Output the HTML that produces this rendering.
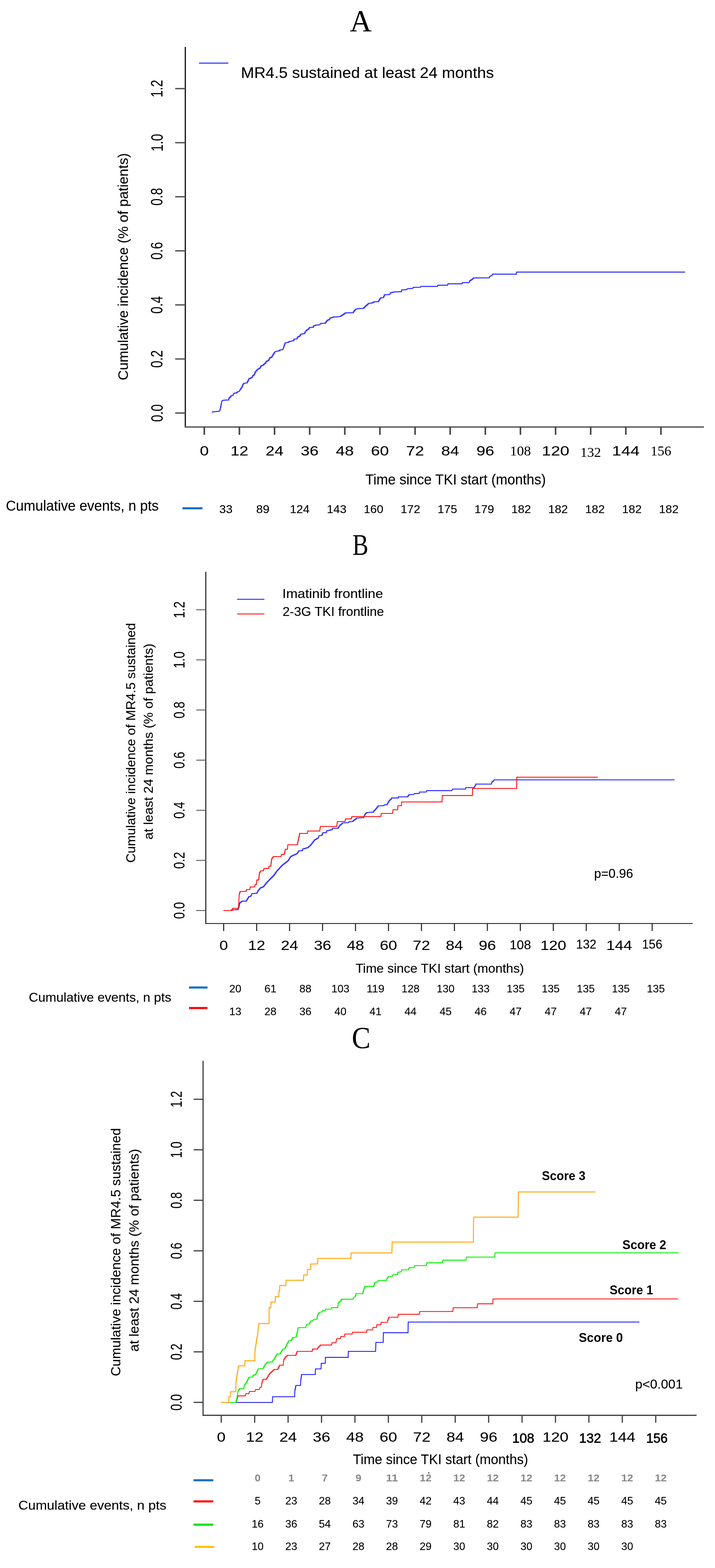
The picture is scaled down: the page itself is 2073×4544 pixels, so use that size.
<!DOCTYPE html>
<html><head><meta charset="utf-8"><title>Cumulative incidence of MR4.5</title>
<style>html,body{margin:0;padding:0;background:#fff;} svg{display:block;}</style></head>
<body><svg width="2073" height="4544" viewBox="0 0 2073 4544">
<rect width="2073" height="4544" fill="#fff"/>
<text x="1046.0" y="90.3" font-size="88" font-family="'Liberation Serif', 'Times New Roman', serif" fill="#000" text-anchor="middle">A</text>
<line x1="537.3" y1="136.0" x2="537.3" y2="1239.0" stroke="#161616" stroke-width="3.6"/>
<line x1="535.5" y1="1237.4" x2="2041.0" y2="1237.4" stroke="#666" stroke-width="4.5"/>
<line x1="508.0" y1="1197.0" x2="537.0" y2="1197.0" stroke="#555" stroke-width="4"/>
<text x="471.5" y="1197.0" font-size="48.5" font-family="'Liberation Sans', Arial, sans-serif" fill="#000" stroke="#000" stroke-width="0.15" text-anchor="middle" textLength="51.0" lengthAdjust="spacingAndGlyphs" transform="rotate(-90 471.5 1197.0)">0.0</text>
<line x1="508.0" y1="1040.3" x2="537.0" y2="1040.3" stroke="#555" stroke-width="4"/>
<text x="471.5" y="1040.3" font-size="48.5" font-family="'Liberation Sans', Arial, sans-serif" fill="#000" stroke="#000" stroke-width="0.15" text-anchor="middle" textLength="51.0" lengthAdjust="spacingAndGlyphs" transform="rotate(-90 471.5 1040.3)">0.2</text>
<line x1="508.0" y1="883.6" x2="537.0" y2="883.6" stroke="#555" stroke-width="4"/>
<text x="471.5" y="883.6" font-size="48.5" font-family="'Liberation Sans', Arial, sans-serif" fill="#000" stroke="#000" stroke-width="0.15" text-anchor="middle" textLength="51.0" lengthAdjust="spacingAndGlyphs" transform="rotate(-90 471.5 883.6)">0.4</text>
<line x1="508.0" y1="726.9" x2="537.0" y2="726.9" stroke="#555" stroke-width="4"/>
<text x="471.5" y="726.9" font-size="48.5" font-family="'Liberation Sans', Arial, sans-serif" fill="#000" stroke="#000" stroke-width="0.15" text-anchor="middle" textLength="51.0" lengthAdjust="spacingAndGlyphs" transform="rotate(-90 471.5 726.9)">0.6</text>
<line x1="508.0" y1="570.2" x2="537.0" y2="570.2" stroke="#555" stroke-width="4"/>
<text x="471.5" y="570.2" font-size="48.5" font-family="'Liberation Sans', Arial, sans-serif" fill="#000" stroke="#000" stroke-width="0.15" text-anchor="middle" textLength="51.0" lengthAdjust="spacingAndGlyphs" transform="rotate(-90 471.5 570.2)">0.8</text>
<line x1="508.0" y1="413.5" x2="537.0" y2="413.5" stroke="#555" stroke-width="4"/>
<text x="471.5" y="413.5" font-size="48.5" font-family="'Liberation Sans', Arial, sans-serif" fill="#000" stroke="#000" stroke-width="0.15" text-anchor="middle" textLength="51.0" lengthAdjust="spacingAndGlyphs" transform="rotate(-90 471.5 413.5)">1.0</text>
<line x1="508.0" y1="256.8" x2="537.0" y2="256.8" stroke="#555" stroke-width="4"/>
<text x="471.5" y="256.8" font-size="48.5" font-family="'Liberation Sans', Arial, sans-serif" fill="#000" stroke="#000" stroke-width="0.15" text-anchor="middle" textLength="51.0" lengthAdjust="spacingAndGlyphs" transform="rotate(-90 471.5 256.8)">1.2</text>
<line x1="592.3" y1="1237.0" x2="592.3" y2="1260.0" stroke="#444" stroke-width="4.5"/>
<text x="592.3" y="1320.2" font-size="38.8" font-family="'Liberation Sans', Arial, sans-serif" fill="#000" stroke="#000" stroke-width="0.15" text-anchor="middle" textLength="25.7" lengthAdjust="spacingAndGlyphs">0</text>
<line x1="694.1" y1="1237.0" x2="694.1" y2="1260.0" stroke="#444" stroke-width="4.5"/>
<text x="694.1" y="1320.2" font-size="38.8" font-family="'Liberation Sans', Arial, sans-serif" fill="#000" stroke="#000" stroke-width="0.15" text-anchor="middle" textLength="51.9" lengthAdjust="spacingAndGlyphs">12</text>
<line x1="796.0" y1="1237.0" x2="796.0" y2="1260.0" stroke="#444" stroke-width="4.5"/>
<text x="796.0" y="1320.2" font-size="38.8" font-family="'Liberation Sans', Arial, sans-serif" fill="#000" stroke="#000" stroke-width="0.15" text-anchor="middle" textLength="51.9" lengthAdjust="spacingAndGlyphs">24</text>
<line x1="897.8" y1="1237.0" x2="897.8" y2="1260.0" stroke="#444" stroke-width="4.5"/>
<text x="897.8" y="1320.2" font-size="38.8" font-family="'Liberation Sans', Arial, sans-serif" fill="#000" stroke="#000" stroke-width="0.15" text-anchor="middle" textLength="51.9" lengthAdjust="spacingAndGlyphs">36</text>
<line x1="999.7" y1="1237.0" x2="999.7" y2="1260.0" stroke="#444" stroke-width="4.5"/>
<text x="999.7" y="1320.2" font-size="38.8" font-family="'Liberation Sans', Arial, sans-serif" fill="#000" stroke="#000" stroke-width="0.15" text-anchor="middle" textLength="51.9" lengthAdjust="spacingAndGlyphs">48</text>
<line x1="1101.5" y1="1237.0" x2="1101.5" y2="1260.0" stroke="#444" stroke-width="4.5"/>
<text x="1101.5" y="1320.2" font-size="38.8" font-family="'Liberation Sans', Arial, sans-serif" fill="#000" stroke="#000" stroke-width="0.15" text-anchor="middle" textLength="51.9" lengthAdjust="spacingAndGlyphs">60</text>
<line x1="1203.4" y1="1237.0" x2="1203.4" y2="1260.0" stroke="#444" stroke-width="4.5"/>
<text x="1203.4" y="1320.2" font-size="38.8" font-family="'Liberation Sans', Arial, sans-serif" fill="#000" stroke="#000" stroke-width="0.15" text-anchor="middle" textLength="51.9" lengthAdjust="spacingAndGlyphs">72</text>
<line x1="1305.2" y1="1237.0" x2="1305.2" y2="1260.0" stroke="#444" stroke-width="4.5"/>
<text x="1305.2" y="1320.2" font-size="38.8" font-family="'Liberation Sans', Arial, sans-serif" fill="#000" stroke="#000" stroke-width="0.15" text-anchor="middle" textLength="51.9" lengthAdjust="spacingAndGlyphs">84</text>
<line x1="1407.1" y1="1237.0" x2="1407.1" y2="1260.0" stroke="#444" stroke-width="4.5"/>
<text x="1407.1" y="1320.2" font-size="38.8" font-family="'Liberation Sans', Arial, sans-serif" fill="#000" stroke="#000" stroke-width="0.15" text-anchor="middle" textLength="51.9" lengthAdjust="spacingAndGlyphs">96</text>
<line x1="1508.9" y1="1237.0" x2="1508.9" y2="1260.0" stroke="#444" stroke-width="4.5"/>
<text x="1508.9" y="1319.8" font-size="41" font-family="'Liberation Serif', 'Times New Roman', serif" fill="#000" text-anchor="middle" textLength="61.0" lengthAdjust="spacingAndGlyphs">108</text>
<line x1="1610.8" y1="1237.0" x2="1610.8" y2="1260.0" stroke="#444" stroke-width="4.5"/>
<text x="1610.8" y="1320.2" font-size="38.8" font-family="'Liberation Sans', Arial, sans-serif" fill="#000" stroke="#000" stroke-width="0.15" text-anchor="middle" textLength="79.9" lengthAdjust="spacingAndGlyphs">120</text>
<line x1="1712.6" y1="1237.0" x2="1712.6" y2="1260.0" stroke="#444" stroke-width="4.5"/>
<text x="1712.6" y="1324.3" font-size="41" font-family="'Liberation Serif', 'Times New Roman', serif" fill="#000" text-anchor="middle" textLength="60.0" lengthAdjust="spacingAndGlyphs">132</text>
<line x1="1814.5" y1="1237.0" x2="1814.5" y2="1260.0" stroke="#444" stroke-width="4.5"/>
<text x="1814.5" y="1320.2" font-size="38.8" font-family="'Liberation Sans', Arial, sans-serif" fill="#000" stroke="#000" stroke-width="0.15" text-anchor="middle" textLength="79.9" lengthAdjust="spacingAndGlyphs">144</text>
<line x1="1916.3" y1="1237.0" x2="1916.3" y2="1260.0" stroke="#444" stroke-width="4.5"/>
<text x="1916.3" y="1319.6" font-size="41" font-family="'Liberation Serif', 'Times New Roman', serif" fill="#000" text-anchor="middle" textLength="60.0" lengthAdjust="spacingAndGlyphs">156</text>
<line x1="577.0" y1="183.0" x2="662.0" y2="183.0" stroke="#5a5aff" stroke-width="3.8"/>
<text x="698.6" y="226.4" font-size="44.7" font-family="'Liberation Sans', Arial, sans-serif" fill="#000" stroke="#000" stroke-width="0.15" text-anchor="start" textLength="733.4" lengthAdjust="spacingAndGlyphs">MR4.5 sustained at least 24 months</text>
<text x="371.0" y="772.9" font-size="39.8" font-family="'Liberation Sans', Arial, sans-serif" fill="#000" stroke="#000" stroke-width="0.15" text-anchor="middle" textLength="658.2" lengthAdjust="spacingAndGlyphs" transform="rotate(-90 371.0 772.9)">Cumulative incidence (% of patients)</text>
<text x="1059.5" y="1403.9" font-size="42.5" font-family="'Liberation Sans', Arial, sans-serif" fill="#000" stroke="#000" stroke-width="0.15" text-anchor="start" textLength="523.0" lengthAdjust="spacingAndGlyphs">Time since TKI start (months)</text>
<text x="17.0" y="1479.5" font-size="42" font-family="'Liberation Sans', Arial, sans-serif" fill="#000" stroke="#000" stroke-width="0.15" text-anchor="start" textLength="443.0" lengthAdjust="spacingAndGlyphs">Cumulative events, n pts</text>
<line x1="529.0" y1="1473.0" x2="587.0" y2="1473.0" stroke="#0070c0" stroke-width="6"/>
<text x="655.0" y="1486.5" font-size="34" font-family="'Liberation Sans', Arial, sans-serif" fill="#000" stroke="#000" stroke-width="0.15" text-anchor="middle" textLength="38.5" lengthAdjust="spacingAndGlyphs">33</text>
<text x="762.0" y="1486.5" font-size="34" font-family="'Liberation Sans', Arial, sans-serif" fill="#000" stroke="#000" stroke-width="0.15" text-anchor="middle" textLength="38.5" lengthAdjust="spacingAndGlyphs">89</text>
<text x="869.0" y="1486.5" font-size="34" font-family="'Liberation Sans', Arial, sans-serif" fill="#000" stroke="#000" stroke-width="0.15" text-anchor="middle" textLength="57.0" lengthAdjust="spacingAndGlyphs">124</text>
<text x="976.0" y="1486.5" font-size="34" font-family="'Liberation Sans', Arial, sans-serif" fill="#000" stroke="#000" stroke-width="0.15" text-anchor="middle" textLength="57.0" lengthAdjust="spacingAndGlyphs">143</text>
<text x="1083.0" y="1486.5" font-size="34" font-family="'Liberation Sans', Arial, sans-serif" fill="#000" stroke="#000" stroke-width="0.15" text-anchor="middle" textLength="57.0" lengthAdjust="spacingAndGlyphs">160</text>
<text x="1190.0" y="1486.5" font-size="34" font-family="'Liberation Sans', Arial, sans-serif" fill="#000" stroke="#000" stroke-width="0.15" text-anchor="middle" textLength="57.0" lengthAdjust="spacingAndGlyphs">172</text>
<text x="1297.0" y="1486.5" font-size="34" font-family="'Liberation Sans', Arial, sans-serif" fill="#000" stroke="#000" stroke-width="0.15" text-anchor="middle" textLength="57.0" lengthAdjust="spacingAndGlyphs">175</text>
<text x="1404.0" y="1486.5" font-size="34" font-family="'Liberation Sans', Arial, sans-serif" fill="#000" stroke="#000" stroke-width="0.15" text-anchor="middle" textLength="57.0" lengthAdjust="spacingAndGlyphs">179</text>
<text x="1511.0" y="1486.5" font-size="34" font-family="'Liberation Sans', Arial, sans-serif" fill="#000" stroke="#000" stroke-width="0.15" text-anchor="middle" textLength="57.0" lengthAdjust="spacingAndGlyphs">182</text>
<text x="1618.0" y="1486.5" font-size="34" font-family="'Liberation Sans', Arial, sans-serif" fill="#000" stroke="#000" stroke-width="0.15" text-anchor="middle" textLength="57.0" lengthAdjust="spacingAndGlyphs">182</text>
<text x="1725.0" y="1486.5" font-size="34" font-family="'Liberation Sans', Arial, sans-serif" fill="#000" stroke="#000" stroke-width="0.15" text-anchor="middle" textLength="57.0" lengthAdjust="spacingAndGlyphs">182</text>
<text x="1832.0" y="1486.5" font-size="34" font-family="'Liberation Sans', Arial, sans-serif" fill="#000" stroke="#000" stroke-width="0.15" text-anchor="middle" textLength="57.0" lengthAdjust="spacingAndGlyphs">182</text>
<text x="1939.0" y="1486.5" font-size="34" font-family="'Liberation Sans', Arial, sans-serif" fill="#000" stroke="#000" stroke-width="0.15" text-anchor="middle" textLength="57.0" lengthAdjust="spacingAndGlyphs">182</text>
<polyline points="614.3,1194.7 619.1,1193.3 636.1,1192.0 638.1,1187.2 638.5,1187.2 638.5,1183.9 639.1,1183.9 639.1,1180.6 639.9,1180.6 639.9,1177.4 640.6,1177.4 640.6,1174.1 641.2,1174.1 641.2,1170.8 641.6,1170.8 643.6,1162.0 647.0,1160.0 662.0,1158.9 663.4,1158.9 663.4,1153.8 664.7,1153.8 666.2,1153.8 666.2,1150.4 669.3,1150.4 669.3,1147.0 670.8,1147.0 676.3,1145.0 678.3,1139.5 685.1,1138.8 686.9,1138.8 686.9,1136.1 688.6,1136.1 694.0,1134.1 696.0,1129.3 697.4,1129.3 697.4,1125.9 700.1,1125.9 700.1,1122.5 701.5,1122.5 702.1,1122.5 702.1,1119.5 703.2,1119.5 703.2,1116.6 704.3,1116.6 704.3,1113.6 704.9,1113.6 706.2,1113.6 706.2,1110.9 707.6,1110.9 715.8,1109.5 717.1,1109.5 717.1,1105.4 718.5,1105.4 719.3,1105.4 719.3,1101.8 721.0,1101.8 721.0,1098.1 721.8,1098.1 723.4,1098.1 723.4,1096.5 726.5,1096.5 726.5,1094.9 729.7,1094.9 729.7,1093.3 731.3,1093.3 732.3,1093.3 732.3,1088.6 733.4,1088.6 735.5,1088.6 735.5,1085.8 737.5,1085.8 738.2,1085.8 738.2,1082.0 739.5,1082.0 739.5,1078.3 740.2,1078.3 741.9,1078.3 741.9,1074.5 745.3,1074.5 745.3,1070.8 747.0,1070.8 748.5,1070.8 748.5,1069.1 751.6,1069.1 751.6,1067.4 753.1,1067.4 754.1,1067.4 754.1,1064.0 756.2,1064.0 756.2,1060.6 757.2,1060.6 758.6,1060.6 758.6,1059.2 761.3,1059.2 761.3,1057.9 762.7,1057.9 764.4,1057.9 764.4,1055.2 767.8,1055.2 767.8,1052.5 769.5,1052.5 770.9,1052.5 770.9,1047.7 772.2,1047.7 773.9,1047.7 773.9,1046.0 777.3,1046.0 777.3,1044.3 779.0,1044.3 779.7,1044.3 779.7,1040.9 781.1,1040.9 781.1,1037.5 781.8,1037.5 783.1,1037.5 783.1,1036.5 785.9,1036.5 785.9,1035.4 787.2,1035.4 788.2,1035.4 788.2,1032.3 790.3,1032.3 790.3,1029.3 791.3,1029.3 792.2,1029.3 792.2,1026.3 794.0,1026.3 794.0,1023.4 795.8,1023.4 795.8,1020.4 796.7,1020.4 800.1,1018.4 807.6,1017.0 809.0,1017.0 809.0,1015.6 811.7,1015.6 811.7,1014.3 813.1,1014.3 820.6,1012.5 822.6,1006.1 823.3,1006.1 823.3,1002.1 824.7,1002.1 824.7,998.0 826.1,998.0 826.1,994.0 826.8,994.0 835.0,992.0 836.7,992.0 836.7,990.6 840.1,990.6 840.1,989.2 841.8,989.2 850.0,987.2 852.0,987.2 852.0,983.1 854.1,983.1 860.2,981.7 861.9,981.7 861.9,977.0 863.6,977.0 865.0,977.0 865.0,975.6 867.6,975.6 867.6,974.3 869.0,974.3 869.9,974.3 869.9,971.5 871.6,971.5 871.6,968.8 872.5,968.8 881.3,966.8 883.7,966.8 883.7,962.7 886.1,962.7 887.4,957.9 889.0,957.9 889.0,956.2 892.0,956.2 892.0,954.5 893.6,954.5 894.8,954.5 894.8,951.8 897.1,951.8 897.1,949.0 898.3,949.0 907.2,948.4 908.5,948.4 908.5,944.3 909.9,944.3 911.6,944.3 911.6,943.2 915.0,943.2 915.0,942.2 916.7,942.2 927.6,940.9 929.0,937.5 941.3,937.1 943.3,937.1 943.3,934.1 945.3,934.1 946.1,934.1 946.1,931.4 947.9,931.4 947.9,928.6 948.7,928.6 950.2,928.6 950.2,927.2 953.4,927.2 953.4,925.9 954.9,925.9 956.2,925.9 956.2,921.8 957.6,921.8 959.4,921.8 959.4,920.7 963.0,920.7 963.0,919.5 966.7,919.5 966.7,918.4 968.5,918.4 975.0,918.6 986.6,917.0 988.1,917.0 988.1,915.2 991.0,915.2 991.0,913.3 993.9,913.3 993.9,911.5 995.4,911.5 997.1,911.5 997.1,909.1 1000.5,909.1 1000.5,906.8 1002.2,906.8 1023.4,906.1 1024.7,906.1 1024.7,902.9 1027.2,902.9 1027.2,899.7 1029.7,899.7 1029.7,896.5 1030.9,896.5 1037.7,894.5 1053.3,893.8 1054.8,893.8 1054.8,891.1 1057.8,891.1 1057.8,888.3 1060.7,888.3 1060.7,885.6 1062.2,885.6 1063.9,885.6 1063.9,882.5 1067.3,882.5 1067.3,879.5 1069.0,879.5 1078.5,878.1 1080.2,878.1 1080.2,876.4 1083.7,876.4 1083.7,874.7 1085.4,874.7 1096.9,874.1 1097.9,874.1 1097.9,870.7 1100.0,870.7 1100.0,867.2 1102.1,867.2 1102.1,863.8 1103.1,863.8 1111.2,862.5 1112.2,862.5 1112.2,858.4 1114.3,858.4 1114.3,854.3 1115.3,854.3 1130.3,853.6 1131.7,848.9 1133.4,848.9 1133.4,848.0 1136.9,848.0 1136.9,847.2 1140.4,847.2 1140.4,846.3 1142.1,846.3 1162.6,845.3 1164.3,845.3 1164.3,840.2 1166.0,840.2 1179.6,839.2 1181.3,836.8 1196.6,835.8 1198.3,832.7 1218.7,832.4 1220.4,830.0 1268.1,830.0 1269.8,826.6 1297.7,826.6 1298.7,822.6 1339.6,822.6 1340.6,819.1 1360.0,819.1 1361.7,814.0 1363.2,814.0 1363.2,812.3 1366.3,812.3 1366.3,810.6 1367.8,810.6 1369.2,810.6 1369.2,808.0 1372.1,808.0 1372.1,805.5 1373.6,805.5 1418.9,804.9 1420.3,800.4 1426.4,798.7 1427.4,794.6 1497.2,794.6 1497.9,788.5 1986.2,788.5" fill="none" stroke="#3030ff" stroke-width="3" stroke-linejoin="miter" stroke-linecap="butt"/>
<text x="1045.0" y="1607.7" font-size="86" font-family="'Liberation Serif', 'Times New Roman', serif" fill="#000" text-anchor="middle" textLength="46.3" lengthAdjust="spacingAndGlyphs">B</text>
<line x1="596.7" y1="1657.0" x2="596.7" y2="2677.5" stroke="#111" stroke-width="2.8"/>
<line x1="595.5" y1="2676.2" x2="2008.3" y2="2676.2" stroke="#222" stroke-width="2.5"/>
<line x1="569.0" y1="2638.7" x2="597.0" y2="2638.7" stroke="#555" stroke-width="2.5"/>
<text x="535.3" y="2638.7" font-size="44" font-family="'Liberation Sans', Arial, sans-serif" fill="#000" stroke="#000" stroke-width="0.15" text-anchor="middle" textLength="48.8" lengthAdjust="spacingAndGlyphs" transform="rotate(-90 535.3 2638.7)">0.0</text>
<line x1="569.0" y1="2493.4" x2="597.0" y2="2493.4" stroke="#555" stroke-width="2.5"/>
<text x="535.3" y="2493.4" font-size="44" font-family="'Liberation Sans', Arial, sans-serif" fill="#000" stroke="#000" stroke-width="0.15" text-anchor="middle" textLength="48.8" lengthAdjust="spacingAndGlyphs" transform="rotate(-90 535.3 2493.4)">0.2</text>
<line x1="569.0" y1="2348.2" x2="597.0" y2="2348.2" stroke="#555" stroke-width="2.5"/>
<text x="535.3" y="2348.2" font-size="44" font-family="'Liberation Sans', Arial, sans-serif" fill="#000" stroke="#000" stroke-width="0.15" text-anchor="middle" textLength="48.8" lengthAdjust="spacingAndGlyphs" transform="rotate(-90 535.3 2348.2)">0.4</text>
<line x1="569.0" y1="2202.9" x2="597.0" y2="2202.9" stroke="#555" stroke-width="2.5"/>
<text x="535.3" y="2202.9" font-size="44" font-family="'Liberation Sans', Arial, sans-serif" fill="#000" stroke="#000" stroke-width="0.15" text-anchor="middle" textLength="48.8" lengthAdjust="spacingAndGlyphs" transform="rotate(-90 535.3 2202.9)">0.6</text>
<line x1="569.0" y1="2057.6" x2="597.0" y2="2057.6" stroke="#555" stroke-width="2.5"/>
<text x="535.3" y="2057.6" font-size="44" font-family="'Liberation Sans', Arial, sans-serif" fill="#000" stroke="#000" stroke-width="0.15" text-anchor="middle" textLength="48.8" lengthAdjust="spacingAndGlyphs" transform="rotate(-90 535.3 2057.6)">0.8</text>
<line x1="569.0" y1="1912.3" x2="597.0" y2="1912.3" stroke="#555" stroke-width="2.5"/>
<text x="535.3" y="1912.3" font-size="44" font-family="'Liberation Sans', Arial, sans-serif" fill="#000" stroke="#000" stroke-width="0.15" text-anchor="middle" textLength="48.8" lengthAdjust="spacingAndGlyphs" transform="rotate(-90 535.3 1912.3)">1.0</text>
<line x1="569.0" y1="1767.1" x2="597.0" y2="1767.1" stroke="#555" stroke-width="2.5"/>
<text x="535.3" y="1767.1" font-size="44" font-family="'Liberation Sans', Arial, sans-serif" fill="#000" stroke="#000" stroke-width="0.15" text-anchor="middle" textLength="48.8" lengthAdjust="spacingAndGlyphs" transform="rotate(-90 535.3 1767.1)">1.2</text>
<line x1="648.5" y1="2676.0" x2="648.5" y2="2698.0" stroke="#222" stroke-width="3"/>
<text x="648.5" y="2752.5" font-size="38" font-family="'Liberation Sans', Arial, sans-serif" fill="#000" stroke="#000" stroke-width="0.15" text-anchor="middle" textLength="24.6" lengthAdjust="spacingAndGlyphs">0</text>
<line x1="744.1" y1="2676.0" x2="744.1" y2="2698.0" stroke="#222" stroke-width="3"/>
<text x="744.1" y="2752.5" font-size="38" font-family="'Liberation Sans', Arial, sans-serif" fill="#000" stroke="#000" stroke-width="0.15" text-anchor="middle" textLength="50.1" lengthAdjust="spacingAndGlyphs">12</text>
<line x1="839.6" y1="2676.0" x2="839.6" y2="2698.0" stroke="#222" stroke-width="3"/>
<text x="839.6" y="2752.5" font-size="38" font-family="'Liberation Sans', Arial, sans-serif" fill="#000" stroke="#000" stroke-width="0.15" text-anchor="middle" textLength="50.1" lengthAdjust="spacingAndGlyphs">24</text>
<line x1="935.2" y1="2676.0" x2="935.2" y2="2698.0" stroke="#222" stroke-width="3"/>
<text x="935.2" y="2752.5" font-size="38" font-family="'Liberation Sans', Arial, sans-serif" fill="#000" stroke="#000" stroke-width="0.15" text-anchor="middle" textLength="50.1" lengthAdjust="spacingAndGlyphs">36</text>
<line x1="1030.8" y1="2676.0" x2="1030.8" y2="2698.0" stroke="#222" stroke-width="3"/>
<text x="1030.8" y="2752.5" font-size="38" font-family="'Liberation Sans', Arial, sans-serif" fill="#000" stroke="#000" stroke-width="0.15" text-anchor="middle" textLength="50.1" lengthAdjust="spacingAndGlyphs">48</text>
<line x1="1126.3" y1="2676.0" x2="1126.3" y2="2698.0" stroke="#222" stroke-width="3"/>
<text x="1126.3" y="2752.5" font-size="38" font-family="'Liberation Sans', Arial, sans-serif" fill="#000" stroke="#000" stroke-width="0.15" text-anchor="middle" textLength="50.1" lengthAdjust="spacingAndGlyphs">60</text>
<line x1="1221.9" y1="2676.0" x2="1221.9" y2="2698.0" stroke="#222" stroke-width="3"/>
<text x="1221.9" y="2752.5" font-size="38" font-family="'Liberation Sans', Arial, sans-serif" fill="#000" stroke="#000" stroke-width="0.15" text-anchor="middle" textLength="50.1" lengthAdjust="spacingAndGlyphs">72</text>
<line x1="1317.5" y1="2676.0" x2="1317.5" y2="2698.0" stroke="#222" stroke-width="3"/>
<text x="1317.5" y="2752.5" font-size="38" font-family="'Liberation Sans', Arial, sans-serif" fill="#000" stroke="#000" stroke-width="0.15" text-anchor="middle" textLength="50.1" lengthAdjust="spacingAndGlyphs">84</text>
<line x1="1413.1" y1="2676.0" x2="1413.1" y2="2698.0" stroke="#222" stroke-width="3"/>
<text x="1413.1" y="2752.5" font-size="38" font-family="'Liberation Sans', Arial, sans-serif" fill="#000" stroke="#000" stroke-width="0.15" text-anchor="middle" textLength="50.1" lengthAdjust="spacingAndGlyphs">96</text>
<line x1="1508.6" y1="2676.0" x2="1508.6" y2="2698.0" stroke="#222" stroke-width="3"/>
<text x="1508.6" y="2750.5" font-size="37.5" font-family="'Liberation Sans', Arial, sans-serif" fill="#000" stroke="#000" stroke-width="0.15" text-anchor="middle" textLength="62.0" lengthAdjust="spacingAndGlyphs">108</text>
<line x1="1604.2" y1="2676.0" x2="1604.2" y2="2698.0" stroke="#222" stroke-width="3"/>
<text x="1604.2" y="2752.5" font-size="38" font-family="'Liberation Sans', Arial, sans-serif" fill="#000" stroke="#000" stroke-width="0.15" text-anchor="middle" textLength="75.0" lengthAdjust="spacingAndGlyphs">120</text>
<line x1="1699.8" y1="2676.0" x2="1699.8" y2="2698.0" stroke="#222" stroke-width="3"/>
<text x="1699.8" y="2749.4" font-size="37.5" font-family="'Liberation Sans', Arial, sans-serif" fill="#000" stroke="#000" stroke-width="0.15" text-anchor="middle" textLength="59.0" lengthAdjust="spacingAndGlyphs">132</text>
<line x1="1795.3" y1="2676.0" x2="1795.3" y2="2698.0" stroke="#222" stroke-width="3"/>
<text x="1795.3" y="2752.5" font-size="38" font-family="'Liberation Sans', Arial, sans-serif" fill="#000" stroke="#000" stroke-width="0.15" text-anchor="middle" textLength="75.0" lengthAdjust="spacingAndGlyphs">144</text>
<line x1="1890.9" y1="2676.0" x2="1890.9" y2="2698.0" stroke="#222" stroke-width="3"/>
<text x="1890.9" y="2749.4" font-size="37.5" font-family="'Liberation Sans', Arial, sans-serif" fill="#000" stroke="#000" stroke-width="0.15" text-anchor="middle" textLength="59.0" lengthAdjust="spacingAndGlyphs">156</text>
<line x1="687.3" y1="1736.8" x2="766.6" y2="1736.8" stroke="#1a1aff" stroke-width="2.6"/>
<line x1="687.3" y1="1779.2" x2="766.6" y2="1779.2" stroke="#ff1010" stroke-width="2.6"/>
<text x="818.6" y="1733.4" font-size="37" font-family="'Liberation Sans', Arial, sans-serif" fill="#000" stroke="#000" stroke-width="0.15" text-anchor="start" textLength="292.0" lengthAdjust="spacingAndGlyphs">Imatinib frontline</text>
<text x="819.3" y="1784.5" font-size="37" font-family="'Liberation Sans', Arial, sans-serif" fill="#000" stroke="#000" stroke-width="0.15" text-anchor="start" textLength="294.0" lengthAdjust="spacingAndGlyphs">2-3G TKI frontline</text>
<text x="392.2" y="2152.7" font-size="37.5" font-family="'Liberation Sans', Arial, sans-serif" fill="#000" stroke="#000" stroke-width="0.15" text-anchor="middle" textLength="695.0" lengthAdjust="spacingAndGlyphs" transform="rotate(-90 392.2 2152.7)">Cumulative incidence of MR4.5 sustained</text>
<text x="442.8" y="2149.0" font-size="37.5" font-family="'Liberation Sans', Arial, sans-serif" fill="#000" stroke="#000" stroke-width="0.15" text-anchor="middle" textLength="567.8" lengthAdjust="spacingAndGlyphs" transform="rotate(-90 442.8 2149.0)">at least 24 months (% of patients)</text>
<text x="1030.9" y="2818.8" font-size="37.8" font-family="'Liberation Sans', Arial, sans-serif" fill="#000" stroke="#000" stroke-width="0.15" text-anchor="start" textLength="488.4" lengthAdjust="spacingAndGlyphs">Time since TKI start (months)</text>
<text x="1722.6" y="2544.3" font-size="36.3" font-family="'Liberation Sans', Arial, sans-serif" fill="#000" stroke="#000" stroke-width="0.15" text-anchor="start" textLength="113.0" lengthAdjust="spacingAndGlyphs">p=0.96</text>
<text x="83.6" y="2902.5" font-size="36.5" font-family="'Liberation Sans', Arial, sans-serif" fill="#000" stroke="#000" stroke-width="0.15" text-anchor="start" textLength="413.0" lengthAdjust="spacingAndGlyphs">Cumulative events, n pts</text>
<line x1="548.0" y1="2861.7" x2="601.7" y2="2861.7" stroke="#0070c0" stroke-width="6"/>
<line x1="548.0" y1="2921.3" x2="601.7" y2="2921.3" stroke="#ff0000" stroke-width="6"/>
<text x="682.3" y="2876.4" font-size="31" font-family="'Liberation Sans', Arial, sans-serif" fill="#000" stroke="#000" stroke-width="0.15" text-anchor="middle" textLength="35.0" lengthAdjust="spacingAndGlyphs">20</text>
<text x="783.9" y="2876.4" font-size="31" font-family="'Liberation Sans', Arial, sans-serif" fill="#000" stroke="#000" stroke-width="0.15" text-anchor="middle" textLength="35.0" lengthAdjust="spacingAndGlyphs">61</text>
<text x="885.5" y="2876.4" font-size="31" font-family="'Liberation Sans', Arial, sans-serif" fill="#000" stroke="#000" stroke-width="0.15" text-anchor="middle" textLength="35.0" lengthAdjust="spacingAndGlyphs">88</text>
<text x="987.1" y="2876.4" font-size="31" font-family="'Liberation Sans', Arial, sans-serif" fill="#000" stroke="#000" stroke-width="0.15" text-anchor="middle" textLength="52.0" lengthAdjust="spacingAndGlyphs">103</text>
<text x="1088.7" y="2876.4" font-size="31" font-family="'Liberation Sans', Arial, sans-serif" fill="#000" stroke="#000" stroke-width="0.15" text-anchor="middle" textLength="52.0" lengthAdjust="spacingAndGlyphs">119</text>
<text x="1190.3" y="2876.4" font-size="31" font-family="'Liberation Sans', Arial, sans-serif" fill="#000" stroke="#000" stroke-width="0.15" text-anchor="middle" textLength="52.0" lengthAdjust="spacingAndGlyphs">128</text>
<text x="1291.9" y="2876.4" font-size="31" font-family="'Liberation Sans', Arial, sans-serif" fill="#000" stroke="#000" stroke-width="0.15" text-anchor="middle" textLength="52.0" lengthAdjust="spacingAndGlyphs">130</text>
<text x="1393.5" y="2876.4" font-size="31" font-family="'Liberation Sans', Arial, sans-serif" fill="#000" stroke="#000" stroke-width="0.15" text-anchor="middle" textLength="52.0" lengthAdjust="spacingAndGlyphs">133</text>
<text x="1495.1" y="2876.4" font-size="31" font-family="'Liberation Sans', Arial, sans-serif" fill="#000" stroke="#000" stroke-width="0.15" text-anchor="middle" textLength="52.0" lengthAdjust="spacingAndGlyphs">135</text>
<text x="1596.7" y="2876.4" font-size="31" font-family="'Liberation Sans', Arial, sans-serif" fill="#000" stroke="#000" stroke-width="0.15" text-anchor="middle" textLength="52.0" lengthAdjust="spacingAndGlyphs">135</text>
<text x="1698.3" y="2876.4" font-size="31" font-family="'Liberation Sans', Arial, sans-serif" fill="#000" stroke="#000" stroke-width="0.15" text-anchor="middle" textLength="52.0" lengthAdjust="spacingAndGlyphs">135</text>
<text x="1799.9" y="2876.4" font-size="31" font-family="'Liberation Sans', Arial, sans-serif" fill="#000" stroke="#000" stroke-width="0.15" text-anchor="middle" textLength="52.0" lengthAdjust="spacingAndGlyphs">135</text>
<text x="1901.5" y="2876.4" font-size="31" font-family="'Liberation Sans', Arial, sans-serif" fill="#000" stroke="#000" stroke-width="0.15" text-anchor="middle" textLength="52.0" lengthAdjust="spacingAndGlyphs">135</text>
<text x="682.3" y="2942.0" font-size="31" font-family="'Liberation Sans', Arial, sans-serif" fill="#000" stroke="#000" stroke-width="0.15" text-anchor="middle" textLength="35.0" lengthAdjust="spacingAndGlyphs">13</text>
<text x="783.9" y="2942.0" font-size="31" font-family="'Liberation Sans', Arial, sans-serif" fill="#000" stroke="#000" stroke-width="0.15" text-anchor="middle" textLength="35.0" lengthAdjust="spacingAndGlyphs">28</text>
<text x="885.5" y="2942.0" font-size="31" font-family="'Liberation Sans', Arial, sans-serif" fill="#000" stroke="#000" stroke-width="0.15" text-anchor="middle" textLength="35.0" lengthAdjust="spacingAndGlyphs">36</text>
<text x="987.1" y="2942.0" font-size="31" font-family="'Liberation Sans', Arial, sans-serif" fill="#000" stroke="#000" stroke-width="0.15" text-anchor="middle" textLength="35.0" lengthAdjust="spacingAndGlyphs">40</text>
<text x="1088.7" y="2942.0" font-size="31" font-family="'Liberation Sans', Arial, sans-serif" fill="#000" stroke="#000" stroke-width="0.15" text-anchor="middle" textLength="35.0" lengthAdjust="spacingAndGlyphs">41</text>
<text x="1190.3" y="2942.0" font-size="31" font-family="'Liberation Sans', Arial, sans-serif" fill="#000" stroke="#000" stroke-width="0.15" text-anchor="middle" textLength="35.0" lengthAdjust="spacingAndGlyphs">44</text>
<text x="1291.9" y="2942.0" font-size="31" font-family="'Liberation Sans', Arial, sans-serif" fill="#000" stroke="#000" stroke-width="0.15" text-anchor="middle" textLength="35.0" lengthAdjust="spacingAndGlyphs">45</text>
<text x="1393.5" y="2942.0" font-size="31" font-family="'Liberation Sans', Arial, sans-serif" fill="#000" stroke="#000" stroke-width="0.15" text-anchor="middle" textLength="35.0" lengthAdjust="spacingAndGlyphs">46</text>
<text x="1495.1" y="2942.0" font-size="31" font-family="'Liberation Sans', Arial, sans-serif" fill="#000" stroke="#000" stroke-width="0.15" text-anchor="middle" textLength="35.0" lengthAdjust="spacingAndGlyphs">47</text>
<text x="1596.7" y="2942.0" font-size="31" font-family="'Liberation Sans', Arial, sans-serif" fill="#000" stroke="#000" stroke-width="0.15" text-anchor="middle" textLength="35.0" lengthAdjust="spacingAndGlyphs">47</text>
<text x="1698.3" y="2942.0" font-size="31" font-family="'Liberation Sans', Arial, sans-serif" fill="#000" stroke="#000" stroke-width="0.15" text-anchor="middle" textLength="35.0" lengthAdjust="spacingAndGlyphs">47</text>
<text x="1799.9" y="2942.0" font-size="31" font-family="'Liberation Sans', Arial, sans-serif" fill="#000" stroke="#000" stroke-width="0.15" text-anchor="middle" textLength="35.0" lengthAdjust="spacingAndGlyphs">47</text>
<polyline points="669.4,2636.9 688.5,2636.2 690.4,2636.2 690.4,2631.1 692.3,2631.1 692.6,2631.1 692.6,2627.6 693.3,2627.6 693.3,2624.1 693.9,2624.1 693.9,2620.5 694.6,2620.5 694.6,2617.0 694.9,2617.0 696.8,2617.0 696.8,2614.2 700.7,2614.2 700.7,2611.4 702.6,2611.4 714.0,2611.4 714.9,2611.4 714.9,2608.3 716.7,2608.3 716.7,2605.2 718.5,2605.2 718.5,2602.2 720.3,2602.2 720.3,2599.1 721.2,2599.1 722.9,2599.1 722.9,2597.8 726.4,2597.8 726.4,2596.6 728.1,2596.6 729.4,2590.2 744.7,2588.4 745.7,2588.4 745.7,2584.9 747.5,2584.9 747.5,2581.3 748.5,2581.3 750.1,2581.3 750.1,2577.4 753.3,2577.4 753.3,2573.6 754.9,2573.6 756.4,2573.6 756.4,2572.3 759.3,2572.3 759.3,2571.1 762.3,2571.1 762.3,2569.8 763.8,2569.8 765.3,2569.8 765.3,2566.0 768.3,2566.0 768.3,2562.1 771.3,2562.1 771.3,2558.3 772.8,2558.3 774.5,2558.3 774.5,2554.7 777.9,2554.7 777.9,2551.2 781.3,2551.2 781.3,2547.6 783.0,2547.6 784.7,2547.6 784.7,2544.4 788.1,2544.4 788.1,2541.1 791.5,2541.1 791.5,2537.9 793.2,2537.9 794.5,2537.9 794.5,2534.4 797.0,2534.4 797.0,2530.9 799.6,2530.9 799.6,2527.3 802.1,2527.3 802.1,2523.8 803.4,2523.8 804.9,2523.8 804.9,2520.5 808.0,2520.5 808.0,2517.2 811.0,2517.2 811.0,2513.8 814.1,2513.8 814.1,2510.5 817.2,2510.5 817.2,2507.2 818.7,2507.2 820.4,2507.2 820.4,2504.7 823.7,2504.7 823.7,2502.1 827.0,2502.1 827.0,2499.6 830.3,2499.6 830.3,2497.0 833.6,2497.0 833.6,2494.5 835.3,2494.5 836.3,2494.5 836.3,2491.4 838.2,2491.4 838.2,2488.3 840.1,2488.3 840.1,2485.3 842.0,2485.3 842.0,2482.2 843.0,2482.2 844.8,2482.2 844.8,2480.6 848.4,2480.6 848.4,2478.9 852.0,2478.9 852.0,2477.3 855.5,2477.3 855.5,2475.6 859.1,2475.6 859.1,2474.0 860.9,2474.0 862.4,2474.0 862.4,2469.9 865.2,2469.9 865.2,2465.9 866.7,2465.9 874.9,2465.1 877.5,2465.1 877.5,2460.0 880.0,2460.0 881.6,2460.0 881.6,2459.1 884.8,2459.1 884.8,2458.1 888.0,2458.1 888.0,2457.1 891.2,2457.1 891.2,2456.2 892.8,2456.2 894.7,2456.2 894.7,2453.0 898.5,2453.0 898.5,2449.8 900.4,2449.8 901.8,2449.8 901.8,2446.0 904.7,2446.0 904.7,2442.2 907.6,2442.2 907.6,2438.3 910.5,2438.3 910.5,2434.5 911.9,2434.5 913.8,2434.5 913.8,2432.4 917.6,2432.4 917.6,2430.2 921.5,2430.2 921.5,2428.1 923.4,2428.1 924.7,2421.7 932.8,2421.1 933.8,2421.1 933.8,2417.2 935.6,2417.2 935.6,2413.4 936.6,2413.4 945.5,2412.9 946.5,2412.9 946.5,2407.8 947.6,2407.8 949.4,2407.8 949.4,2407.0 953.0,2407.0 953.0,2406.2 956.7,2406.2 956.7,2405.3 960.3,2405.3 960.3,2404.5 962.1,2404.5 963.8,2404.5 963.8,2400.1 965.4,2400.1 980.8,2400.1 981.5,2400.1 981.5,2396.8 983.0,2396.8 983.0,2393.5 983.8,2393.5 985.5,2393.5 985.5,2390.6 988.9,2390.6 988.9,2387.7 992.3,2387.7 992.3,2384.8 994.0,2384.8 1010.6,2384.0 1012.4,2381.5 1022.1,2380.7 1023.7,2380.7 1023.7,2378.1 1026.9,2378.1 1026.9,2375.6 1030.1,2375.6 1030.1,2373.1 1033.3,2373.1 1033.3,2370.5 1034.9,2370.5 1054.0,2369.5 1054.7,2369.5 1054.7,2366.4 1056.2,2366.4 1056.2,2363.3 1057.7,2363.3 1057.7,2360.3 1059.2,2360.3 1059.2,2357.2 1059.9,2357.2 1061.3,2357.2 1061.3,2355.9 1064.1,2355.9 1064.1,2354.7 1065.5,2354.7 1082.1,2353.4 1083.6,2353.4 1083.6,2349.8 1086.7,2349.8 1086.7,2346.2 1089.8,2346.2 1089.8,2342.7 1092.8,2342.7 1092.8,2339.1 1095.9,2339.1 1095.9,2335.5 1097.4,2335.5 1112.8,2334.8 1114.0,2332.2 1121.7,2332.2 1122.9,2332.2 1122.9,2328.2 1125.2,2328.2 1125.2,2324.2 1127.6,2324.2 1127.6,2320.2 1128.8,2320.2 1130.8,2320.2 1130.8,2316.4 1135.0,2316.4 1135.0,2312.6 1137.0,2312.6 1153.6,2312.6 1154.9,2312.6 1154.9,2309.2 1156.2,2309.2 1181.7,2309.2 1182.8,2309.2 1182.8,2306.1 1184.9,2306.1 1184.9,2303.1 1186.0,2303.1 1199.6,2302.3 1201.3,2299.6 1215.3,2299.6 1216.6,2295.2 1235.7,2295.2 1237.0,2291.1 1310.3,2291.1 1311.8,2286.8 1349.4,2286.8 1350.6,2282.5 1374.9,2282.5 1376.7,2277.4 1379.0,2277.4 1379.0,2272.3 1381.3,2272.3 1424.7,2272.3 1426.0,2265.9 1428.5,2265.9 1428.5,2263.8 1431.1,2263.8 1432.3,2260.0 1955.7,2260.0" fill="none" stroke="#2020ff" stroke-width="2.6" stroke-linejoin="miter" stroke-linecap="butt"/>
<polyline points="647.7,2638.7 673.2,2638.7 674.5,2632.3 691.1,2632.3 692.3,2617.0 693.6,2591.5 694.4,2591.5 694.4,2587.4 695.9,2587.4 695.9,2583.3 696.7,2583.3 713.5,2583.3 714.6,2578.0 724.3,2578.0 725.5,2570.3 738.3,2570.3 739.6,2563.4 743.4,2563.4 744.7,2550.1 749.8,2550.1 750.0,2550.1 750.0,2546.8 750.4,2546.8 750.4,2543.5 750.8,2543.5 750.8,2540.1 751.3,2540.1 751.3,2536.8 751.7,2536.8 751.7,2533.5 752.1,2533.5 752.1,2530.2 752.3,2530.2 753.3,2530.2 753.3,2527.0 755.2,2527.0 755.2,2523.8 756.2,2523.8 763.8,2523.8 765.1,2516.9 779.1,2516.9 779.9,2510.3 785.0,2510.3 785.2,2510.3 785.2,2506.8 785.6,2506.8 785.6,2503.3 786.1,2503.3 786.1,2499.9 786.5,2499.9 786.5,2496.4 787.0,2496.4 787.0,2492.9 787.4,2492.9 787.4,2489.4 787.6,2489.4 789.0,2489.4 789.0,2485.8 791.8,2485.8 791.8,2482.2 793.2,2482.2 814.9,2482.2 816.2,2476.1 823.8,2476.1 824.3,2476.1 824.3,2472.4 825.3,2472.4 825.3,2468.7 826.2,2468.7 826.2,2465.0 827.2,2465.0 827.2,2461.3 827.7,2461.3 833.3,2461.3 834.6,2448.0 862.1,2448.0 862.4,2448.0 862.4,2444.9 863.1,2444.9 863.1,2441.8 863.7,2441.8 863.7,2438.8 864.4,2438.8 864.4,2435.7 864.7,2435.7 865.1,2435.7 865.1,2432.3 865.8,2432.3 865.8,2428.9 866.5,2428.9 866.5,2425.5 867.2,2425.5 867.2,2422.1 867.9,2422.1 867.9,2418.7 868.6,2418.7 868.6,2415.3 869.0,2415.3 891.5,2415.3 892.3,2408.2 927.2,2408.2 928.9,2395.0 976.2,2395.0 978.2,2380.7 1000.4,2380.7 1001.7,2373.1 1019.1,2373.1 1020.1,2366.2 1104.3,2366.2 1105.4,2357.2 1138.3,2357.2 1139.6,2346.5 1152.9,2346.5 1153.6,2335.0 1163.8,2335.0 1164.6,2324.0 1281.7,2324.0 1282.2,2305.4 1369.8,2305.4 1370.3,2285.0 1497.9,2285.0 1498.3,2252.3 1733.2,2252.3" fill="none" stroke="#ff1010" stroke-width="2.6" stroke-linejoin="miter" stroke-linecap="butt"/>
<text x="1047.0" y="3036.5" font-size="88" font-family="'Liberation Serif', 'Times New Roman', serif" fill="#000" text-anchor="middle" textLength="54.2" lengthAdjust="spacingAndGlyphs">C</text>
<line x1="588.8" y1="3074.2" x2="588.8" y2="4102.5" stroke="#444" stroke-width="3.5"/>
<line x1="587.0" y1="4101.6" x2="2019.6" y2="4101.6" stroke="#3a3a3a" stroke-width="3.5"/>
<line x1="561.5" y1="4064.0" x2="589.0" y2="4064.0" stroke="#444" stroke-width="3.5"/>
<text x="526.8" y="4064.0" font-size="46.4" font-family="'Liberation Sans', Arial, sans-serif" fill="#000" stroke="#000" stroke-width="0.15" text-anchor="middle" textLength="47.5" lengthAdjust="spacingAndGlyphs" transform="rotate(-90 526.8 4064.0)">0.0</text>
<line x1="561.5" y1="3917.6" x2="589.0" y2="3917.6" stroke="#444" stroke-width="3.5"/>
<text x="526.8" y="3917.6" font-size="46.4" font-family="'Liberation Sans', Arial, sans-serif" fill="#000" stroke="#000" stroke-width="0.15" text-anchor="middle" textLength="47.5" lengthAdjust="spacingAndGlyphs" transform="rotate(-90 526.8 3917.6)">0.2</text>
<line x1="561.5" y1="3771.2" x2="589.0" y2="3771.2" stroke="#444" stroke-width="3.5"/>
<text x="526.8" y="3771.2" font-size="46.4" font-family="'Liberation Sans', Arial, sans-serif" fill="#000" stroke="#000" stroke-width="0.15" text-anchor="middle" textLength="47.5" lengthAdjust="spacingAndGlyphs" transform="rotate(-90 526.8 3771.2)">0.4</text>
<line x1="561.5" y1="3624.8" x2="589.0" y2="3624.8" stroke="#444" stroke-width="3.5"/>
<text x="526.8" y="3624.8" font-size="46.4" font-family="'Liberation Sans', Arial, sans-serif" fill="#000" stroke="#000" stroke-width="0.15" text-anchor="middle" textLength="47.5" lengthAdjust="spacingAndGlyphs" transform="rotate(-90 526.8 3624.8)">0.6</text>
<line x1="561.5" y1="3478.4" x2="589.0" y2="3478.4" stroke="#444" stroke-width="3.5"/>
<text x="526.8" y="3478.4" font-size="46.4" font-family="'Liberation Sans', Arial, sans-serif" fill="#000" stroke="#000" stroke-width="0.15" text-anchor="middle" textLength="47.5" lengthAdjust="spacingAndGlyphs" transform="rotate(-90 526.8 3478.4)">0.8</text>
<line x1="561.5" y1="3332.0" x2="589.0" y2="3332.0" stroke="#444" stroke-width="3.5"/>
<text x="526.8" y="3332.0" font-size="46.4" font-family="'Liberation Sans', Arial, sans-serif" fill="#000" stroke="#000" stroke-width="0.15" text-anchor="middle" textLength="47.5" lengthAdjust="spacingAndGlyphs" transform="rotate(-90 526.8 3332.0)">1.0</text>
<line x1="561.5" y1="3185.6" x2="589.0" y2="3185.6" stroke="#444" stroke-width="3.5"/>
<text x="526.8" y="3185.6" font-size="46.4" font-family="'Liberation Sans', Arial, sans-serif" fill="#000" stroke="#000" stroke-width="0.15" text-anchor="middle" textLength="47.5" lengthAdjust="spacingAndGlyphs" transform="rotate(-90 526.8 3185.6)">1.2</text>
<line x1="641.5" y1="4100.0" x2="641.5" y2="4123.0" stroke="#444" stroke-width="3.5"/>
<text x="641.5" y="4178.1" font-size="38.5" font-family="'Liberation Sans', Arial, sans-serif" fill="#000" stroke="#000" stroke-width="0.15" text-anchor="middle" textLength="24.9" lengthAdjust="spacingAndGlyphs">0</text>
<line x1="738.4" y1="4100.0" x2="738.4" y2="4123.0" stroke="#444" stroke-width="3.5"/>
<text x="738.4" y="4178.1" font-size="38.5" font-family="'Liberation Sans', Arial, sans-serif" fill="#000" stroke="#000" stroke-width="0.15" text-anchor="middle" textLength="50.8" lengthAdjust="spacingAndGlyphs">12</text>
<line x1="835.3" y1="4100.0" x2="835.3" y2="4123.0" stroke="#444" stroke-width="3.5"/>
<text x="835.3" y="4178.1" font-size="38.5" font-family="'Liberation Sans', Arial, sans-serif" fill="#000" stroke="#000" stroke-width="0.15" text-anchor="middle" textLength="50.8" lengthAdjust="spacingAndGlyphs">24</text>
<line x1="932.2" y1="4100.0" x2="932.2" y2="4123.0" stroke="#444" stroke-width="3.5"/>
<text x="932.2" y="4178.1" font-size="38.5" font-family="'Liberation Sans', Arial, sans-serif" fill="#000" stroke="#000" stroke-width="0.15" text-anchor="middle" textLength="50.8" lengthAdjust="spacingAndGlyphs">36</text>
<line x1="1029.1" y1="4100.0" x2="1029.1" y2="4123.0" stroke="#444" stroke-width="3.5"/>
<text x="1029.1" y="4178.1" font-size="38.5" font-family="'Liberation Sans', Arial, sans-serif" fill="#000" stroke="#000" stroke-width="0.15" text-anchor="middle" textLength="50.8" lengthAdjust="spacingAndGlyphs">48</text>
<line x1="1126.0" y1="4100.0" x2="1126.0" y2="4123.0" stroke="#444" stroke-width="3.5"/>
<text x="1126.0" y="4178.1" font-size="38.5" font-family="'Liberation Sans', Arial, sans-serif" fill="#000" stroke="#000" stroke-width="0.15" text-anchor="middle" textLength="50.8" lengthAdjust="spacingAndGlyphs">60</text>
<line x1="1222.9" y1="4100.0" x2="1222.9" y2="4123.0" stroke="#444" stroke-width="3.5"/>
<text x="1222.9" y="4178.1" font-size="38.5" font-family="'Liberation Sans', Arial, sans-serif" fill="#000" stroke="#000" stroke-width="0.15" text-anchor="middle" textLength="50.8" lengthAdjust="spacingAndGlyphs">72</text>
<line x1="1319.8" y1="4100.0" x2="1319.8" y2="4123.0" stroke="#444" stroke-width="3.5"/>
<text x="1319.8" y="4178.1" font-size="38.5" font-family="'Liberation Sans', Arial, sans-serif" fill="#000" stroke="#000" stroke-width="0.15" text-anchor="middle" textLength="50.8" lengthAdjust="spacingAndGlyphs">84</text>
<line x1="1416.7" y1="4100.0" x2="1416.7" y2="4123.0" stroke="#444" stroke-width="3.5"/>
<text x="1416.7" y="4178.1" font-size="38.5" font-family="'Liberation Sans', Arial, sans-serif" fill="#000" stroke="#000" stroke-width="0.15" text-anchor="middle" textLength="50.8" lengthAdjust="spacingAndGlyphs">96</text>
<line x1="1513.6" y1="4100.0" x2="1513.6" y2="4123.0" stroke="#444" stroke-width="3.5"/>
<text x="1517.1" y="4180.7" font-size="39.5" font-family="'Liberation Sans', Arial, sans-serif" fill="#000" stroke="#000" stroke-width="1.1" text-anchor="middle" textLength="64.0" lengthAdjust="spacingAndGlyphs">108</text>
<line x1="1610.5" y1="4100.0" x2="1610.5" y2="4123.0" stroke="#444" stroke-width="3.5"/>
<text x="1610.5" y="4178.1" font-size="38.5" font-family="'Liberation Sans', Arial, sans-serif" fill="#000" stroke="#000" stroke-width="0.15" text-anchor="middle" textLength="75.7" lengthAdjust="spacingAndGlyphs">120</text>
<line x1="1707.4" y1="4100.0" x2="1707.4" y2="4123.0" stroke="#444" stroke-width="3.5"/>
<text x="1710.9" y="4180.7" font-size="39.5" font-family="'Liberation Sans', Arial, sans-serif" fill="#000" stroke="#000" stroke-width="1.1" text-anchor="middle" textLength="64.0" lengthAdjust="spacingAndGlyphs">132</text>
<line x1="1804.3" y1="4100.0" x2="1804.3" y2="4123.0" stroke="#444" stroke-width="3.5"/>
<text x="1804.3" y="4178.1" font-size="38.5" font-family="'Liberation Sans', Arial, sans-serif" fill="#000" stroke="#000" stroke-width="0.15" text-anchor="middle" textLength="75.7" lengthAdjust="spacingAndGlyphs">144</text>
<line x1="1901.2" y1="4100.0" x2="1901.2" y2="4123.0" stroke="#444" stroke-width="3.5"/>
<text x="1904.7" y="4180.7" font-size="39.5" font-family="'Liberation Sans', Arial, sans-serif" fill="#000" stroke="#000" stroke-width="1.1" text-anchor="middle" textLength="62.0" lengthAdjust="spacingAndGlyphs">156</text>
<text x="349.1" y="3628.7" font-size="39" font-family="'Liberation Sans', Arial, sans-serif" fill="#000" stroke="#000" stroke-width="0.15" text-anchor="middle" textLength="719.3" lengthAdjust="spacingAndGlyphs" transform="rotate(-90 349.1 3628.7)">Cumulative incidence of MR4.5 sustained</text>
<text x="401.9" y="3623.3" font-size="39" font-family="'Liberation Sans', Arial, sans-serif" fill="#000" stroke="#000" stroke-width="0.15" text-anchor="middle" textLength="588.0" lengthAdjust="spacingAndGlyphs" transform="rotate(-90 401.9 3623.3)">at least 24 months (% of patients)</text>
<text x="1023.2" y="4242.9" font-size="40" font-family="'Liberation Sans', Arial, sans-serif" fill="#000" stroke="#000" stroke-width="0.15" text-anchor="start" textLength="508.0" lengthAdjust="spacingAndGlyphs">Time since TKI start (months)</text>
<text x="1841.5" y="4023.6" font-size="37" font-family="'Liberation Sans', Arial, sans-serif" fill="#000" stroke="#000" stroke-width="0.15" text-anchor="start" textLength="138.0" lengthAdjust="spacingAndGlyphs">p&lt;0.001</text>
<text x="1571.0" y="3419.9" font-size="37.3" font-family="'Liberation Sans', Arial, sans-serif" font-weight="bold" fill="#000" text-anchor="start" textLength="126.4" lengthAdjust="spacingAndGlyphs">Score 3</text>
<text x="1804.5" y="3620.2" font-size="37.3" font-family="'Liberation Sans', Arial, sans-serif" font-weight="bold" fill="#000" text-anchor="start" textLength="127.0" lengthAdjust="spacingAndGlyphs">Score 2</text>
<text x="1767.6" y="3751.4" font-size="37.3" font-family="'Liberation Sans', Arial, sans-serif" font-weight="bold" fill="#000" text-anchor="start" textLength="126.0" lengthAdjust="spacingAndGlyphs">Score 1</text>
<text x="1678.0" y="3889.2" font-size="37.3" font-family="'Liberation Sans', Arial, sans-serif" font-weight="bold" fill="#000" text-anchor="start" textLength="127.8" lengthAdjust="spacingAndGlyphs">Score 0</text>
<text x="53.3" y="4375.2" font-size="37.5" font-family="'Liberation Sans', Arial, sans-serif" fill="#000" stroke="#000" stroke-width="0.15" text-anchor="start" textLength="429.0" lengthAdjust="spacingAndGlyphs">Cumulative events, n pts</text>
<line x1="561.2" y1="4289.7" x2="618.4" y2="4289.7" stroke="#0070c0" stroke-width="6"/>
<line x1="561.2" y1="4351.0" x2="618.4" y2="4351.0" stroke="#ff0000" stroke-width="6"/>
<line x1="561.2" y1="4418.4" x2="618.4" y2="4418.4" stroke="#00e000" stroke-width="6"/>
<line x1="564.2" y1="4482.7" x2="620.8" y2="4482.7" stroke="#ffc000" stroke-width="6"/>
<text x="747.0" y="4292.8" font-size="30" font-family="'Liberation Sans', Arial, sans-serif" font-weight="bold" fill="#888" text-anchor="middle" textLength="17.0" lengthAdjust="spacingAndGlyphs">0</text>
<text x="844.4" y="4292.8" font-size="30" font-family="'Liberation Sans', Arial, sans-serif" font-weight="bold" fill="#888" text-anchor="middle" textLength="17.0" lengthAdjust="spacingAndGlyphs">1</text>
<text x="941.8" y="4292.8" font-size="30" font-family="'Liberation Sans', Arial, sans-serif" font-weight="bold" fill="#888" text-anchor="middle" textLength="17.0" lengthAdjust="spacingAndGlyphs">7</text>
<text x="1039.2" y="4292.8" font-size="30" font-family="'Liberation Sans', Arial, sans-serif" font-weight="bold" fill="#888" text-anchor="middle" textLength="17.0" lengthAdjust="spacingAndGlyphs">9</text>
<text x="1136.6" y="4292.8" font-size="30" font-family="'Liberation Sans', Arial, sans-serif" font-weight="bold" fill="#888" text-anchor="middle" textLength="34.5" lengthAdjust="spacingAndGlyphs">11</text>
<text x="1234.0" y="4292.8" font-size="30" font-family="'Liberation Sans', Arial, sans-serif" font-weight="bold" fill="#888" text-anchor="middle" textLength="34.5" lengthAdjust="spacingAndGlyphs">12</text>
<text x="1331.4" y="4292.8" font-size="30" font-family="'Liberation Sans', Arial, sans-serif" font-weight="bold" fill="#888" text-anchor="middle" textLength="34.5" lengthAdjust="spacingAndGlyphs">12</text>
<text x="1428.8" y="4292.8" font-size="30" font-family="'Liberation Sans', Arial, sans-serif" font-weight="bold" fill="#888" text-anchor="middle" textLength="34.5" lengthAdjust="spacingAndGlyphs">12</text>
<text x="1526.2" y="4292.8" font-size="30" font-family="'Liberation Sans', Arial, sans-serif" font-weight="bold" fill="#888" text-anchor="middle" textLength="34.5" lengthAdjust="spacingAndGlyphs">12</text>
<text x="1623.6" y="4292.8" font-size="30" font-family="'Liberation Sans', Arial, sans-serif" font-weight="bold" fill="#888" text-anchor="middle" textLength="34.5" lengthAdjust="spacingAndGlyphs">12</text>
<text x="1721.0" y="4292.8" font-size="30" font-family="'Liberation Sans', Arial, sans-serif" font-weight="bold" fill="#888" text-anchor="middle" textLength="34.5" lengthAdjust="spacingAndGlyphs">12</text>
<text x="1818.4" y="4292.8" font-size="30" font-family="'Liberation Sans', Arial, sans-serif" font-weight="bold" fill="#888" text-anchor="middle" textLength="34.5" lengthAdjust="spacingAndGlyphs">12</text>
<text x="1915.8" y="4292.8" font-size="30" font-family="'Liberation Sans', Arial, sans-serif" font-weight="bold" fill="#888" text-anchor="middle" textLength="34.5" lengthAdjust="spacingAndGlyphs">12</text>
<text x="747.0" y="4360.0" font-size="30.5" font-family="'Liberation Sans', Arial, sans-serif" fill="#000" stroke="#000" stroke-width="0.15" text-anchor="middle" textLength="17.0" lengthAdjust="spacingAndGlyphs">5</text>
<text x="844.4" y="4360.0" font-size="30.5" font-family="'Liberation Sans', Arial, sans-serif" fill="#000" stroke="#000" stroke-width="0.15" text-anchor="middle" textLength="34.5" lengthAdjust="spacingAndGlyphs">23</text>
<text x="941.8" y="4360.0" font-size="30.5" font-family="'Liberation Sans', Arial, sans-serif" fill="#000" stroke="#000" stroke-width="0.15" text-anchor="middle" textLength="34.5" lengthAdjust="spacingAndGlyphs">28</text>
<text x="1039.2" y="4360.0" font-size="30.5" font-family="'Liberation Sans', Arial, sans-serif" fill="#000" stroke="#000" stroke-width="0.15" text-anchor="middle" textLength="34.5" lengthAdjust="spacingAndGlyphs">34</text>
<text x="1136.6" y="4360.0" font-size="30.5" font-family="'Liberation Sans', Arial, sans-serif" fill="#000" stroke="#000" stroke-width="0.15" text-anchor="middle" textLength="34.5" lengthAdjust="spacingAndGlyphs">39</text>
<text x="1234.0" y="4360.0" font-size="30.5" font-family="'Liberation Sans', Arial, sans-serif" fill="#000" stroke="#000" stroke-width="0.15" text-anchor="middle" textLength="34.5" lengthAdjust="spacingAndGlyphs">42</text>
<text x="1331.4" y="4360.0" font-size="30.5" font-family="'Liberation Sans', Arial, sans-serif" fill="#000" stroke="#000" stroke-width="0.15" text-anchor="middle" textLength="34.5" lengthAdjust="spacingAndGlyphs">43</text>
<text x="1428.8" y="4360.0" font-size="30.5" font-family="'Liberation Sans', Arial, sans-serif" fill="#000" stroke="#000" stroke-width="0.15" text-anchor="middle" textLength="34.5" lengthAdjust="spacingAndGlyphs">44</text>
<text x="1526.2" y="4360.0" font-size="30.5" font-family="'Liberation Sans', Arial, sans-serif" fill="#000" stroke="#000" stroke-width="0.15" text-anchor="middle" textLength="34.5" lengthAdjust="spacingAndGlyphs">45</text>
<text x="1623.6" y="4360.0" font-size="30.5" font-family="'Liberation Sans', Arial, sans-serif" fill="#000" stroke="#000" stroke-width="0.15" text-anchor="middle" textLength="34.5" lengthAdjust="spacingAndGlyphs">45</text>
<text x="1721.0" y="4360.0" font-size="30.5" font-family="'Liberation Sans', Arial, sans-serif" fill="#000" stroke="#000" stroke-width="0.15" text-anchor="middle" textLength="34.5" lengthAdjust="spacingAndGlyphs">45</text>
<text x="1818.4" y="4360.0" font-size="30.5" font-family="'Liberation Sans', Arial, sans-serif" fill="#000" stroke="#000" stroke-width="0.15" text-anchor="middle" textLength="34.5" lengthAdjust="spacingAndGlyphs">45</text>
<text x="1915.8" y="4360.0" font-size="30.5" font-family="'Liberation Sans', Arial, sans-serif" fill="#000" stroke="#000" stroke-width="0.15" text-anchor="middle" textLength="34.5" lengthAdjust="spacingAndGlyphs">45</text>
<text x="747.0" y="4426.8" font-size="30.5" font-family="'Liberation Sans', Arial, sans-serif" fill="#000" stroke="#000" stroke-width="0.15" text-anchor="middle" textLength="34.5" lengthAdjust="spacingAndGlyphs">16</text>
<text x="844.4" y="4426.8" font-size="30.5" font-family="'Liberation Sans', Arial, sans-serif" fill="#000" stroke="#000" stroke-width="0.15" text-anchor="middle" textLength="34.5" lengthAdjust="spacingAndGlyphs">36</text>
<text x="941.8" y="4426.8" font-size="30.5" font-family="'Liberation Sans', Arial, sans-serif" fill="#000" stroke="#000" stroke-width="0.15" text-anchor="middle" textLength="34.5" lengthAdjust="spacingAndGlyphs">54</text>
<text x="1039.2" y="4426.8" font-size="30.5" font-family="'Liberation Sans', Arial, sans-serif" fill="#000" stroke="#000" stroke-width="0.15" text-anchor="middle" textLength="34.5" lengthAdjust="spacingAndGlyphs">63</text>
<text x="1136.6" y="4426.8" font-size="30.5" font-family="'Liberation Sans', Arial, sans-serif" fill="#000" stroke="#000" stroke-width="0.15" text-anchor="middle" textLength="34.5" lengthAdjust="spacingAndGlyphs">73</text>
<text x="1234.0" y="4426.8" font-size="30.5" font-family="'Liberation Sans', Arial, sans-serif" fill="#000" stroke="#000" stroke-width="0.15" text-anchor="middle" textLength="34.5" lengthAdjust="spacingAndGlyphs">79</text>
<text x="1331.4" y="4426.8" font-size="30.5" font-family="'Liberation Sans', Arial, sans-serif" fill="#000" stroke="#000" stroke-width="0.15" text-anchor="middle" textLength="34.5" lengthAdjust="spacingAndGlyphs">81</text>
<text x="1428.8" y="4426.8" font-size="30.5" font-family="'Liberation Sans', Arial, sans-serif" fill="#000" stroke="#000" stroke-width="0.15" text-anchor="middle" textLength="34.5" lengthAdjust="spacingAndGlyphs">82</text>
<text x="1526.2" y="4426.8" font-size="30.5" font-family="'Liberation Sans', Arial, sans-serif" fill="#000" stroke="#000" stroke-width="0.15" text-anchor="middle" textLength="34.5" lengthAdjust="spacingAndGlyphs">83</text>
<text x="1623.6" y="4426.8" font-size="30.5" font-family="'Liberation Sans', Arial, sans-serif" fill="#000" stroke="#000" stroke-width="0.15" text-anchor="middle" textLength="34.5" lengthAdjust="spacingAndGlyphs">83</text>
<text x="1721.0" y="4426.8" font-size="30.5" font-family="'Liberation Sans', Arial, sans-serif" fill="#000" stroke="#000" stroke-width="0.15" text-anchor="middle" textLength="34.5" lengthAdjust="spacingAndGlyphs">83</text>
<text x="1818.4" y="4426.8" font-size="30.5" font-family="'Liberation Sans', Arial, sans-serif" fill="#000" stroke="#000" stroke-width="0.15" text-anchor="middle" textLength="34.5" lengthAdjust="spacingAndGlyphs">83</text>
<text x="1915.8" y="4426.8" font-size="30.5" font-family="'Liberation Sans', Arial, sans-serif" fill="#000" stroke="#000" stroke-width="0.15" text-anchor="middle" textLength="34.5" lengthAdjust="spacingAndGlyphs">83</text>
<text x="747.0" y="4492.3" font-size="30.5" font-family="'Liberation Sans', Arial, sans-serif" fill="#000" stroke="#000" stroke-width="0.15" text-anchor="middle" textLength="34.5" lengthAdjust="spacingAndGlyphs">10</text>
<text x="844.4" y="4492.3" font-size="30.5" font-family="'Liberation Sans', Arial, sans-serif" fill="#000" stroke="#000" stroke-width="0.15" text-anchor="middle" textLength="34.5" lengthAdjust="spacingAndGlyphs">23</text>
<text x="941.8" y="4492.3" font-size="30.5" font-family="'Liberation Sans', Arial, sans-serif" fill="#000" stroke="#000" stroke-width="0.15" text-anchor="middle" textLength="34.5" lengthAdjust="spacingAndGlyphs">27</text>
<text x="1039.2" y="4492.3" font-size="30.5" font-family="'Liberation Sans', Arial, sans-serif" fill="#000" stroke="#000" stroke-width="0.15" text-anchor="middle" textLength="34.5" lengthAdjust="spacingAndGlyphs">28</text>
<text x="1136.6" y="4492.3" font-size="30.5" font-family="'Liberation Sans', Arial, sans-serif" fill="#000" stroke="#000" stroke-width="0.15" text-anchor="middle" textLength="34.5" lengthAdjust="spacingAndGlyphs">28</text>
<text x="1234.0" y="4492.3" font-size="30.5" font-family="'Liberation Sans', Arial, sans-serif" fill="#000" stroke="#000" stroke-width="0.15" text-anchor="middle" textLength="34.5" lengthAdjust="spacingAndGlyphs">29</text>
<text x="1331.4" y="4492.3" font-size="30.5" font-family="'Liberation Sans', Arial, sans-serif" fill="#000" stroke="#000" stroke-width="0.15" text-anchor="middle" textLength="34.5" lengthAdjust="spacingAndGlyphs">30</text>
<text x="1428.8" y="4492.3" font-size="30.5" font-family="'Liberation Sans', Arial, sans-serif" fill="#000" stroke="#000" stroke-width="0.15" text-anchor="middle" textLength="34.5" lengthAdjust="spacingAndGlyphs">30</text>
<text x="1526.2" y="4492.3" font-size="30.5" font-family="'Liberation Sans', Arial, sans-serif" fill="#000" stroke="#000" stroke-width="0.15" text-anchor="middle" textLength="34.5" lengthAdjust="spacingAndGlyphs">30</text>
<text x="1623.6" y="4492.3" font-size="30.5" font-family="'Liberation Sans', Arial, sans-serif" fill="#000" stroke="#000" stroke-width="0.15" text-anchor="middle" textLength="34.5" lengthAdjust="spacingAndGlyphs">30</text>
<text x="1721.0" y="4492.3" font-size="30.5" font-family="'Liberation Sans', Arial, sans-serif" fill="#000" stroke="#000" stroke-width="0.15" text-anchor="middle" textLength="34.5" lengthAdjust="spacingAndGlyphs">30</text>
<text x="1818.4" y="4492.3" font-size="30.5" font-family="'Liberation Sans', Arial, sans-serif" fill="#000" stroke="#000" stroke-width="0.15" text-anchor="middle" textLength="34.5" lengthAdjust="spacingAndGlyphs">30</text>
<rect x="1242.2" y="4266" width="2.2" height="4.8" fill="#111"/>
<polyline points="684.9,4064.3 789.6,4064.3 790.3,4047.7 854.2,4047.7 854.7,4031.1 855.0,4031.1 855.0,4027.9 855.7,4027.9 855.7,4024.7 856.4,4024.7 856.4,4021.4 857.0,4021.4 857.0,4018.2 857.7,4018.2 857.7,4015.0 858.0,4015.0 871.3,4015.0 872.0,3999.1 872.3,3999.1 872.3,3995.9 872.8,3995.9 872.8,3992.8 873.3,3992.8 873.3,3989.6 873.8,3989.6 873.8,3986.5 874.3,3986.5 874.3,3983.3 874.6,3983.3 913.9,3983.3 914.7,3967.0 930.7,3967.0 931.5,3950.7 943.0,3950.7 943.5,3933.6 1009.4,3933.6 1009.9,3916.3 1089.0,3916.3 1089.8,3890.2 1111.0,3890.2 1111.5,3862.1 1183.0,3862.1 1183.5,3831.3 1853.9,3831.3" fill="none" stroke="#2020ff" stroke-width="2.6" stroke-linejoin="miter" stroke-linecap="butt"/>
<polyline points="683.6,4063.0 684.5,4063.0 684.5,4059.2 686.5,4059.2 686.5,4055.3 687.4,4055.3 687.8,4055.3 687.8,4051.9 688.7,4051.9 688.7,4048.5 689.6,4048.5 689.6,4045.1 690.0,4045.1 711.2,4045.1 713.0,4038.7 721.4,4038.7 723.2,4032.3 739.3,4032.3 741.1,4026.7 752.0,4026.7 753.8,4020.8 757.7,4019.6 758.9,4009.9 759.4,4009.9 759.4,4006.7 760.4,4006.7 760.4,4003.5 761.3,4003.5 761.3,4000.3 762.3,4000.3 762.3,3997.1 762.8,3997.1 772.5,3997.1 773.2,3997.1 773.2,3994.1 774.8,3994.1 774.8,3991.0 775.5,3991.0 776.7,3991.0 776.7,3987.3 779.1,3987.3 779.1,3983.7 781.5,3983.7 781.5,3980.0 782.7,3980.0 784.1,3980.0 784.1,3977.4 786.9,3977.4 786.9,3974.9 788.3,3974.9 790.2,3974.9 790.2,3971.7 794.1,3971.7 794.1,3968.5 796.0,3968.5 804.9,3968.5 806.0,3968.5 806.0,3964.4 808.1,3964.4 808.1,3960.4 810.2,3960.4 810.2,3956.3 811.3,3956.3 821.0,3956.3 822.8,3939.9 824.2,3939.9 824.2,3936.1 827.1,3936.1 827.1,3932.3 828.6,3932.3 830.0,3932.3 830.0,3930.0 832.9,3930.0 832.9,3927.7 834.3,3927.7 857.2,3927.7 858.1,3927.7 858.1,3923.9 859.8,3923.9 859.8,3920.0 861.4,3920.0 861.4,3916.2 862.3,3916.2 904.5,3916.2 905.1,3916.2 905.1,3912.8 906.4,3912.8 906.4,3909.3 907.0,3909.3 920.0,3909.6 920.8,3909.6 920.8,3906.9 922.3,3906.9 922.3,3904.3 923.1,3904.3 924.9,3904.3 924.9,3901.1 928.4,3901.1 928.4,3897.9 930.2,3897.9 960.9,3897.9 962.9,3891.0 974.1,3891.0 975.7,3880.0 986.9,3878.7 988.4,3873.1 998.6,3873.1 999.7,3866.0 1020.9,3866.0 1022.1,3860.9 1063.0,3860.9 1063.7,3854.0 1080.3,3854.0 1081.4,3846.8 1091.6,3846.8 1092.6,3839.1 1103.8,3839.1 1105.1,3832.3 1123.0,3832.3 1124.3,3825.6 1125.2,3825.6 1125.2,3821.4 1127.1,3821.4 1127.1,3817.3 1128.1,3817.3 1153.6,3817.3 1154.5,3808.9 1215.7,3808.9 1217.0,3800.8 1312.8,3800.8 1314.0,3789.8 1383.5,3789.8 1384.8,3778.4 1428.5,3778.4 1429.5,3764.2 1966.2,3764.2" fill="none" stroke="#ff1a1a" stroke-width="2.6" stroke-linejoin="miter" stroke-linecap="butt"/>
<polyline points="664.5,4064.3 682.3,4064.3 684.0,4064.3 684.0,4059.1 685.7,4059.1 686.0,4059.1 686.0,4055.6 686.6,4055.6 686.6,4052.1 687.3,4052.1 687.3,4048.6 687.9,4048.6 687.9,4045.1 688.2,4045.1 690.0,4031.1 691.5,4031.1 691.5,4027.6 694.4,4027.6 694.4,4024.2 695.9,4024.2 706.6,4024.2 708.6,4014.5 710.0,4014.5 710.0,4010.9 712.9,4010.9 712.9,4007.3 714.3,4007.3 715.1,4007.3 715.1,4004.0 716.7,4004.0 716.7,4000.8 718.3,4000.8 718.3,3997.5 720.0,3997.5 720.0,3994.3 721.6,3994.3 721.6,3991.0 722.4,3991.0 732.1,3991.0 733.4,3985.9 735.3,3985.9 735.3,3984.9 739.2,3984.9 739.2,3983.8 741.1,3983.8 741.9,3983.8 741.9,3980.5 743.4,3980.5 743.4,3977.2 744.9,3977.2 744.9,3973.8 746.4,3973.8 746.4,3970.5 747.9,3970.5 747.9,3967.2 748.7,3967.2 762.8,3966.0 764.0,3966.0 764.0,3961.4 765.3,3961.4 766.4,3961.4 766.4,3957.3 768.8,3957.3 768.8,3953.2 769.9,3953.2 771.4,3953.2 771.4,3950.4 774.5,3950.4 774.5,3947.6 776.0,3947.6 788.3,3946.8 790.8,3946.8 790.8,3941.7 793.4,3941.7 794.4,3941.7 794.4,3938.1 796.5,3938.1 796.5,3934.5 798.5,3934.5 798.5,3931.0 800.5,3931.0 800.5,3927.4 802.6,3927.4 802.6,3923.8 803.6,3923.8 811.8,3923.8 812.8,3923.8 812.8,3920.3 815.0,3920.3 815.0,3916.8 817.0,3916.8 817.0,3913.3 819.2,3913.3 819.2,3909.8 820.2,3909.8 826.1,3908.5 826.8,3908.5 826.8,3905.3 828.2,3905.3 828.2,3902.1 829.6,3902.1 829.6,3898.9 831.0,3898.9 831.0,3895.7 831.7,3895.7 832.8,3895.7 832.8,3892.3 834.9,3892.3 834.9,3888.9 837.0,3888.9 837.0,3885.5 838.1,3885.5 844.0,3885.5 844.9,3885.5 844.9,3882.5 846.5,3882.5 846.5,3879.6 848.2,3879.6 848.2,3876.6 849.1,3876.6 858.5,3875.3 858.9,3875.3 858.9,3871.8 859.7,3871.8 859.7,3868.3 860.5,3868.3 860.5,3864.8 861.3,3864.8 861.3,3861.2 862.1,3861.2 862.1,3857.7 862.9,3857.7 862.9,3854.2 863.7,3854.2 863.7,3850.7 864.5,3850.7 864.5,3847.2 864.9,3847.2 886.6,3847.2 888.4,3838.3 896.8,3837.0 897.8,3837.0 897.8,3832.8 899.6,3832.8 899.6,3828.6 900.6,3828.6 907.0,3827.6 908.3,3824.3 918.5,3823.0 918.8,3823.0 918.8,3819.8 919.5,3819.8 919.5,3816.6 920.1,3816.6 920.1,3813.4 920.8,3813.4 920.8,3810.2 921.1,3810.2 922.4,3810.2 922.4,3806.8 925.1,3806.8 925.1,3803.4 926.4,3803.4 932.8,3802.1 934.8,3798.3 943.0,3797.5 944.3,3794.0 959.6,3794.0 960.9,3789.4 979.2,3789.4 980.8,3775.3 983.0,3775.3 983.0,3772.8 985.1,3772.8 986.7,3772.8 986.7,3768.9 989.9,3768.9 989.9,3765.1 991.5,3765.1 1023.4,3765.1 1025.2,3760.0 1029.8,3758.2 1030.2,3758.2 1030.2,3755.1 1031.0,3755.1 1031.0,3752.1 1031.9,3752.1 1031.9,3749.0 1032.3,3749.0 1051.5,3749.0 1051.9,3749.0 1051.9,3745.9 1052.8,3745.9 1052.8,3742.7 1053.6,3742.7 1053.6,3739.6 1054.0,3739.6 1054.7,3739.6 1054.7,3735.8 1056.0,3735.8 1056.0,3731.9 1057.2,3731.9 1057.2,3728.1 1057.9,3728.1 1083.4,3728.1 1084.0,3728.1 1084.0,3724.3 1085.3,3724.3 1085.3,3720.4 1086.6,3720.4 1086.6,3716.6 1087.2,3716.6 1094.9,3714.8 1096.2,3710.7 1121.2,3710.7 1122.0,3705.5 1123.1,3705.5 1123.1,3702.6 1125.3,3702.6 1125.3,3699.7 1126.4,3699.7 1137.4,3699.1 1139.1,3694.0 1152.7,3693.5 1153.7,3686.9 1162.9,3685.9 1164.7,3680.0 1184.3,3680.0 1185.9,3674.1 1200.4,3673.6 1201.7,3667.7 1236.2,3667.7 1237.4,3659.6 1282.9,3659.6 1283.9,3651.9 1351.1,3651.9 1352.3,3643.0 1434.0,3643.0 1435.3,3630.8 1967.2,3630.8" fill="none" stroke="#00f000" stroke-width="2.6" stroke-linejoin="miter" stroke-linecap="butt"/>
<polyline points="640.2,4064.3 662.7,4064.3 663.2,4048.2 667.8,4048.2 668.3,4032.9 683.6,4032.9 684.4,4004.3 684.7,4004.3 684.7,4000.5 685.3,4000.5 685.3,3996.6 685.8,3996.6 685.8,3992.8 686.4,3992.8 686.4,3988.9 686.7,3988.9 687.0,3988.9 687.0,3985.1 687.6,3985.1 687.6,3981.2 688.3,3981.2 688.3,3977.4 688.9,3977.4 688.9,3973.6 689.2,3973.6 689.5,3973.6 689.5,3969.8 690.0,3969.8 690.0,3965.9 690.5,3965.9 690.5,3962.1 691.0,3962.1 691.0,3958.3 691.3,3958.3 709.7,3958.3 710.2,3943.5 738.5,3943.5 739.3,3913.6 739.6,3913.6 739.6,3909.8 740.2,3909.8 740.2,3905.9 740.9,3905.9 740.9,3902.1 741.5,3902.1 741.5,3898.3 741.8,3898.3 742.1,3898.3 742.1,3895.0 742.6,3895.0 742.6,3891.7 743.1,3891.7 743.1,3888.3 743.6,3888.3 743.6,3885.0 744.1,3885.0 744.1,3881.7 744.4,3881.7 744.7,3881.7 744.7,3878.2 745.3,3878.2 745.3,3874.7 746.0,3874.7 746.0,3871.2 746.6,3871.2 746.6,3867.7 746.9,3867.7 748.7,3851.1 750.0,3835.7 779.9,3835.7 780.4,3789.4 785.0,3789.4 785.5,3773.5 797.8,3773.5 798.3,3757.4 808.5,3757.4 809.0,3740.9 810.6,3740.9 811.1,3725.5 828.9,3725.5 829.4,3710.2 880.0,3710.2 880.5,3694.9 891.0,3694.9 891.5,3679.1 900.4,3679.1 900.9,3663.0 920.8,3663.0 921.4,3647.1 1017.4,3647.1 1017.9,3631.1 1136.2,3631.0 1137.0,3599.6 1372.3,3599.6 1373.2,3527.2 1502.1,3527.2 1503.0,3454.2 1726.4,3454.2" fill="none" stroke="#ffad1a" stroke-width="3.0" stroke-linejoin="miter" stroke-linecap="butt"/>
</svg></body></html>
